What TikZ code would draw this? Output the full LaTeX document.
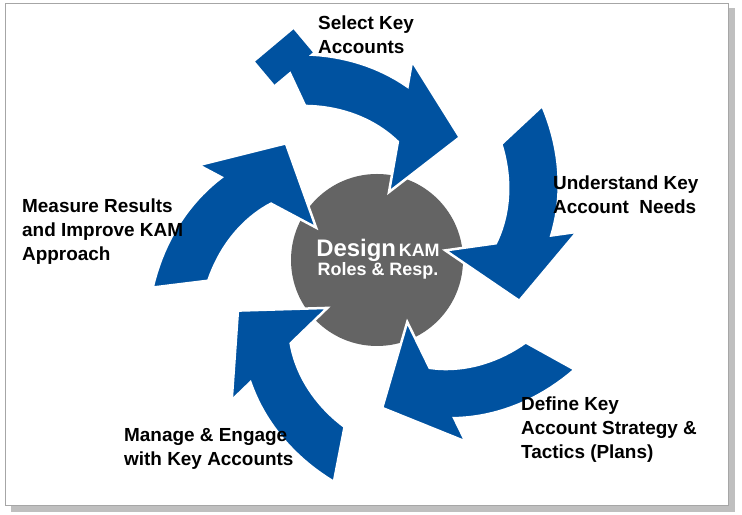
\documentclass[tikz,border=0pt]{standalone}
\usepackage{fontspec}
\setmainfont{Liberation Sans}
\usepackage{tikz}
\usetikzlibrary{positioning,shadows}
\definecolor{kamblue}{RGB}{0,82,160}
\definecolor{hubgray}{RGB}{100,100,100}

\begin{document}
\begin{tikzpicture}[
  x=1bp, y=1bp,
  steplabel/.style={anchor=north west, inner sep=0pt, align=left,
               font=\fontsize{19}{24}\selectfont\bfseries},
  arrowband/.style={fill=kamblue, draw=white, line width=2.5bp, line join=miter}
]
\useasboundingbox (0,0) rectangle (742,515);

% --- Frame with shadow ---
\fill[black!25] (11,3) rectangle (735,507);
\draw[black!35, fill=white] (5,10) rectangle (728,512);

% --- Hub ---
\coordinate (C) at (377,255);
\fill[hubgray] (C) circle (86);

% --- Five spiral arrows ---
\foreach \k in {0,...,4}{
  \pgfmathsetmacro{\phi}{-72*\k}
  \begin{scope}[shift={(C)}]
    \filldraw[arrowband]
      plot[domain=0:1, samples=20] ({115-35*\x+\phi}:{226-50*\x})
      -- ({80+\phi}:202) -- ({56+\phi}:148) -- ({80+\phi}:69)
      -- plot[domain=1:0, samples=20] ({115-35*\x+\phi}:{170-50*\x})
      -- cycle;
  \end{scope}
}
\node[fill=kamblue, rotate=40, minimum width=50bp, minimum height=30bp,
      inner sep=0pt] (piece) at (284,458) {};

% --- Hub text ---
\node[align=center, text=white, font=\bfseries] (hub) at (378,256)
  {{\fontsize{24}{26}\selectfont Design} {\fontsize{18}{20}\selectfont KAM}\\
   {\fontsize{18}{22}\selectfont Roles \& Resp.}};

% --- Step labels ---
\node[steplabel] (select)     at (318,499) {Select Key\\Accounts};
\node[steplabel] (understand) at (553,339) {Understand Key\\Account\ \ Needs};
\node[steplabel] (define)     at (521,118) {Define Key\\Account Strategy \&\\Tactics (Plans)};
\node[steplabel] (manage)     at (124,87)  {Manage \& Engage\\with Key Accounts};
\node[steplabel] (measure)    at (22,316)  {Measure Results\\and Improve KAM\\Approach};

\end{tikzpicture}
\end{document}
